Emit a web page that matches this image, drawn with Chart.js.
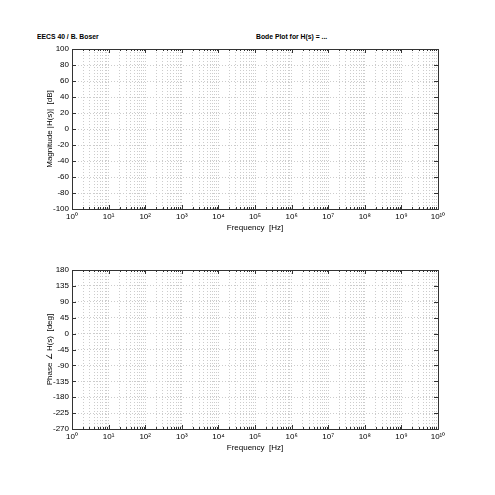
<!DOCTYPE html>
<html><head><meta charset="utf-8">
<script src="https://cdn.jsdelivr.net/npm/chart.js@4"></script>
<style>
body{margin:0;background:#fff;width:495px;height:495px;position:relative;overflow:hidden;font-family:"Liberation Sans",Arial,sans-serif}
.t{position:absolute;font-size:8px;font-weight:bold;color:#000;transform:scaleX(0.85);transform-origin:left}
canvas{position:absolute;left:0}
</style></head><body>
<div class="t" style="left:37px;top:32px">EECS 40 / B. Boser</div>
<div class="t" style="left:256px;top:32px">Bode Plot for H(s) = ...</div>
<canvas id="c1" style="top:0px"></canvas>
<canvas id="c2" style="top:250px"></canvas>
<script>
const decades=[0,1,2,3,4,5,6,7,8,9,10];
const decadeLabels=["10⁰","10¹","10²","10³","10⁴","10⁵","10⁶","10⁷","10⁸","10⁹","10¹⁰"];
const magTicks=[-100,-80,-60,-40,-20,0,20,40,60,80,100];
const phaseTicks=[-270,-225,-180,-135,-90,-45,0,45,90,135,180];
const magData=[];
const phaseData=[];
const xLabel="Frequency  [Hz]";
const magLabel="Magnitude |H(s)|  [dB]";
const phaseLabel="Phase ∠ H(s)  [deg]";

const font={family:"Liberation Sans",size:8};
function frame(yLabel){return {id:'frame',afterDraw(c){const a=c.chartArea,x=c.ctx;x.save();x.strokeStyle='#333';x.lineWidth=1;x.strokeRect(a.left+0.5,a.top+0.5,a.right-a.left,a.bottom-a.top);
 x.beginPath();
 c.scales.x.ticks.forEach(t=>{const p=Math.round(c.scales.x.getPixelForValue(t.value))+0.5;const L=t.major?4:2;x.moveTo(p,a.bottom);x.lineTo(p,a.bottom-L);x.moveTo(p,a.top);x.lineTo(p,a.top+L);});
 c.scales.y.ticks.forEach(t=>{const p=Math.round(c.scales.y.getPixelForValue(t.value))+0.5;x.moveTo(a.left,p);x.lineTo(a.left+4,p);x.moveTo(a.right,p);x.lineTo(a.right-4,p);});
 x.stroke();
 x.fillStyle='#000';x.font='8px "Liberation Sans"';x.textAlign='center';x.textBaseline='middle';
 x.fillText(xLabel,(a.left+a.right)/2,a.bottom+19);
 x.translate(50,(a.top+a.bottom)/2);x.rotate(-Math.PI/2);x.fillText(yLabel,0,0);
 x.restore();}};}
function make(id,padTop,axisH,yTicks,yLabel,data){
 const cv=document.getElementById(id);
 return new Chart(cv,{type:'scatter',data:{datasets:[{data:data,showLine:true,borderColor:'#00f',pointRadius:0}]},
 plugins:[frame(yLabel)],
 options:{responsive:false,animation:false,devicePixelRatio:1,maintainAspectRatio:false,
  layout:{padding:{top:padTop,right:57,left:0,bottom:0}},
  plugins:{legend:{display:false},tooltip:{enabled:false}},
  scales:{
   x:{type:'logarithmic',min:1,max:1e10,
    afterBuildTicks(s){const t=[];decades.forEach(d=>{t.push({value:Math.pow(10,d),major:true});if(d<10)for(let m=2;m<10;m++)t.push({value:m*Math.pow(10,d),major:false});});s.ticks=t;},
    afterFit(s){s.height=axisH;},
    ticks:{autoSkip:false,maxRotation:0,color:'#000',font:font,padding:3,callback(v){const d=Math.round(Math.log10(v));return Math.abs(Math.pow(10,d)-v)<1e-6*v?decadeLabels[d]:'';}},
    grid:{color:'#ccc',lineWidth:1,drawTicks:false,tickLength:0},border:{display:false,dash:[1,2]}},
   y:{min:yTicks[0],max:yTicks[yTicks.length-1],
    afterBuildTicks(s){s.ticks=yTicks.map(v=>({value:v}));},
    afterFit(s){s.width=72;},
    ticks:{color:'#000',font:font,padding:3},
    grid:{color:'#ccc',drawTicks:false},border:{display:false,dash:[1,2]}}
  }}});
}
function setSize(id,w,h){const c=document.getElementById(id);c.width=w;c.height=h;c.style.width=w+'px';c.style.height=h+'px';}
setSize('c1',495,245);setSize('c2',495,220);
make('c1',49,36,magTicks,magLabel,magData);
make('c2',20,41,phaseTicks,phaseLabel,phaseData);
</script></body></html>
